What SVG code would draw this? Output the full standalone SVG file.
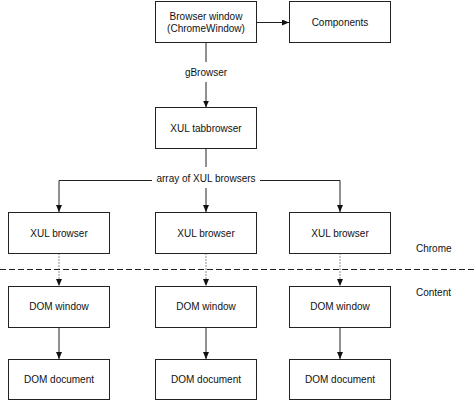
<svg xmlns="http://www.w3.org/2000/svg" width="474" height="402" viewBox="0 0 474 402">
<style>
.box{fill:#fff;stroke:#222;stroke-width:1}
.t{font-family:"Liberation Sans",Arial,Helvetica,sans-serif;font-size:10px;fill:#111;text-anchor:middle;dominant-baseline:central}
.lab{font-family:"Liberation Sans",Arial,Helvetica,sans-serif;font-size:10px;fill:#111;dominant-baseline:central}
.ln{fill:none;stroke:#222;stroke-width:1}
.dot{fill:none;stroke:#222;stroke-width:1;stroke-dasharray:1 2}
.sep{fill:none;stroke:#222;stroke-width:1;stroke-dasharray:6 3}
</style>
<defs>
<marker id="ah" markerUnits="userSpaceOnUse" markerWidth="8" markerHeight="7" refX="7" refY="3" orient="auto">
<path d="M0,0 L7,3 L0,6 z" fill="#111"/>
</marker>
</defs>
<rect width="474" height="402" fill="#fff"/>
<g id="connectors">
<line class="ln" x1="256.5" y1="22.5" x2="289" y2="22.5" marker-end="url(#ah)"/>
<line class="ln" x1="206" y1="42.5" x2="206" y2="62"/>
<line class="ln" x1="206" y1="82" x2="206" y2="107.5" marker-end="url(#ah)"/>
<text class="t" x="206" y="72">gBrowser</text>
<line class="ln" x1="206" y1="148.5" x2="206" y2="167"/>
<polyline class="ln" points="152,180.5 59,180.5 59,212" marker-end="url(#ah)"/>
<polyline class="ln" points="260,180.5 340,180.5 340,212" marker-end="url(#ah)"/>
<line class="ln" x1="206" y1="188" x2="206" y2="212" marker-end="url(#ah)"/>
<text class="t" x="206" y="178.5">array of XUL browsers</text>
<line class="dot" x1="59" y1="253.5" x2="59" y2="286" marker-end="url(#ah)"/>
<line class="dot" x1="206" y1="253.5" x2="206" y2="286" marker-end="url(#ah)"/>
<line class="dot" x1="340" y1="253.5" x2="340" y2="286" marker-end="url(#ah)"/>
<line class="ln" x1="59" y1="327.5" x2="59" y2="359" marker-end="url(#ah)"/>
<line class="ln" x1="206" y1="327.5" x2="206" y2="359" marker-end="url(#ah)"/>
<line class="ln" x1="340" y1="327.5" x2="340" y2="359" marker-end="url(#ah)"/>
</g>
<line id="separator" class="sep" x1="0" y1="269.5" x2="474" y2="269.5"/>
<text class="lab" x="416" y="248">Chrome</text>
<text class="lab" x="416" y="292">Content</text>
<g id="browser-window"><rect class="box" x="155.5" y="1.5" width="101" height="41"/><text class="t" x="206" y="16">Browser window</text><text class="t" x="206" y="28.5">(ChromeWindow)</text></g>
<g id="components"><rect class="box" x="289.5" y="1.5" width="101" height="41"/><text class="t" x="340" y="22.5">Components</text></g>
<g id="tabbrowser"><rect class="box" x="155.5" y="107.5" width="101" height="41"/><text class="t" x="206" y="128">XUL tabbrowser</text></g>
<g id="xul-browser-1"><rect class="box" x="8.5" y="212.5" width="101" height="41"/><text class="t" x="59" y="233">XUL browser</text></g>
<g id="xul-browser-2"><rect class="box" x="155.5" y="212.5" width="101" height="41"/><text class="t" x="206" y="233">XUL browser</text></g>
<g id="xul-browser-3"><rect class="box" x="289.5" y="212.5" width="101" height="41"/><text class="t" x="340" y="233">XUL browser</text></g>
<g id="dom-window-1"><rect class="box" x="8.5" y="286.5" width="101" height="41"/><text class="t" x="59" y="306">DOM window</text></g>
<g id="dom-window-2"><rect class="box" x="155.5" y="286.5" width="101" height="41"/><text class="t" x="206" y="306">DOM window</text></g>
<g id="dom-window-3"><rect class="box" x="289.5" y="286.5" width="101" height="41"/><text class="t" x="340" y="306">DOM window</text></g>
<g id="dom-document-1"><rect class="box" x="8.5" y="359.5" width="101" height="40"/><text class="t" x="59" y="379.5">DOM document</text></g>
<g id="dom-document-2"><rect class="box" x="155.5" y="359.5" width="101" height="40"/><text class="t" x="206" y="379.5">DOM document</text></g>
<g id="dom-document-3"><rect class="box" x="289.5" y="359.5" width="101" height="40"/><text class="t" x="340" y="379.5">DOM document</text></g>
</svg>
